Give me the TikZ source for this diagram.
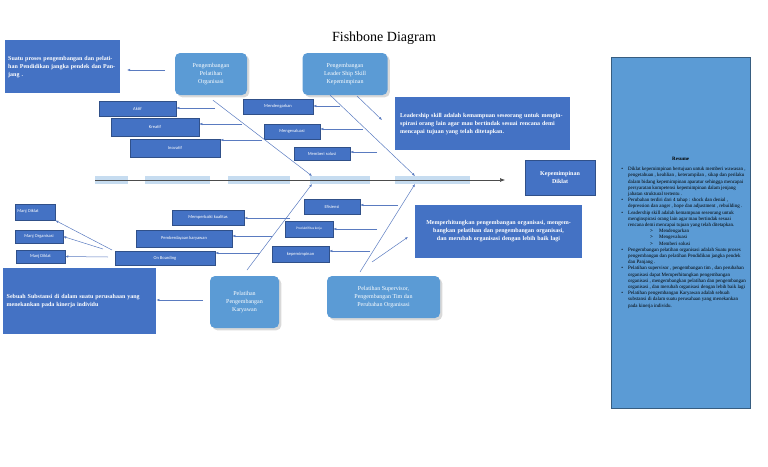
\documentclass[tikz,border=0pt]{standalone}
\usepackage{fontspec}
\setmainfont{Liberation Serif}
\setsansfont{Carlito}
\usetikzlibrary{arrows.meta,shadows}
\definecolor{dk}{HTML}{4472C4}
\definecolor{lt}{HTML}{5B9BD5}
\definecolor{ln}{HTML}{5A7BC0}
\tikzset{
 dbox/.style={draw=dk!70!black,fill=dk,text=white,font=\sffamily\fontsize{4.5}{5}\selectfont,inner sep=0pt,line width=0.5pt},
 tbox/.style={fill=dk,text=white,font=\bfseries\fontsize{6}{8}\selectfont,inner sep=3pt,align=left,anchor=north west},
 rbox/.style={fill=lt,rounded corners=5pt,text=white,font=\fontsize{6}{8}\selectfont,align=center,drop shadow={opacity=0.3}},
 arr/.style={draw=ln,line width=0.5pt,-{Latex[length=3pt,width=2.5pt]}},
 bone/.style={draw=ln,line width=0.5pt},
}
\begin{document}
\begin{tikzpicture}[x=1pt,y=-1pt]
\useasboundingbox (0,0) rectangle (768,466);
\node (title) at (384,38) {\fontsize{14}{16}\selectfont Fishbone Diagram};
% top-left text box
\node[tbox,minimum width=115pt,minimum height=53pt,text width=109pt] (tl) at (5,40) {Suatu proses pengembangan dan pelatihan Pendidikan jangka pendek dan Panjang .};
\node[rbox,minimum width=72pt,minimum height=42pt] (ppo) at (211,74) {Pengembangan\\Pelatihan\\Organisasi};
\node[rbox,minimum width=85pt,minimum height=42pt] (pls) at (345,74) {Pengembangan\\Leader Ship Skill\\Kepemimpinan};
\coordinate (a0) at (165,70); \coordinate (a1) at (127,70);
\draw[arr] (a0) -- (a1);
% left top items
\node[dbox,minimum width=77pt,minimum height=15pt] (aktif) at (137.5,108.5) {Aktif};
\node[dbox,minimum width=88pt,minimum height=18pt] (kreatif) at (155,127) {Kreatif};
\node[dbox,minimum width=90pt,minimum height=18pt] (inov) at (175,148) {Inovatif};
\node[dbox,minimum width=70pt,minimum height=15pt] (mend) at (278,106.5) {Mendengarkan};
\node[dbox,minimum width=56pt,minimum height=15pt] (meng) at (292,131.5) {Mengevaluasi};
\node[dbox,minimum width=56pt,minimum height=13pt] (memb) at (322,153.5) {Memberi solusi};
\coordinate (b1) at (215,108); \coordinate (b2) at (242,124); \coordinate (b3) at (262,110);
\draw[arr] (b1) -- (aktif.east|-b1);
\draw[arr] (242,124) -- (kreatif.east|-b2);
\draw[arr] (262,140) -- (inov.east|-0,140);
\draw[arr] (340,106) -- (mend.east|-0,106);
\draw[arr] (363,129) -- (meng.east|-0,129);
\draw[arr] (377,152) -- (memb.east|-0,152);
% spine
\foreach \a/\b in {95/128,145/210,228/290,310/370,395/470}{
 \fill[lt!35] (\a,176) rectangle (\b,184);}
\node[dbox,font=\bfseries\fontsize{6}{8}\selectfont,minimum width=70pt,minimum height=35pt,align=center] (kd) at (560,177.5) {Kepemimpinan\\Diklat};
\coordinate (s0) at (95,180);
\draw[draw=black!70,line width=0.6pt,-{Latex[length=5pt,width=4pt]}] (s0) -- (505,180);
\draw[bone,-{Latex[length=3pt,width=2.5pt]}] (ppo.south) ++(2,5) -- (312,176);
\draw[bone,-{Latex[length=3pt,width=2.5pt]}] (330,95) -- (415,176);
\draw[arr] (357,96) -- (382,120);
\node[tbox,minimum width=175pt,minimum height=53pt,text width=165pt] (lead) at (395,97) {Leadership skill adalah kemampuan seseorang untuk menginspirasi orang lain agar mau bertindak sesuai rencana demi mencapai tujuan yang telah ditetapkan.};
% bottom items
\node[dbox,minimum width=56pt,minimum height=15pt] (efi) at (332,206.5) {Efisiensi};
\node[dbox,minimum width=48pt,minimum height=16pt,font=\sffamily\fontsize{3.5}{4}\selectfont] (prod) at (309,229) {Produktifitas kerja};
\node[dbox,minimum width=57pt,minimum height=16pt] (kep) at (300.5,254) {kepemimpinan};
\node[dbox,minimum width=72pt,minimum height=15pt] (mk) at (208,217.5) {Memperbaiki kualitas};
\node[dbox,minimum width=96pt,minimum height=17pt] (pk) at (184,238.5) {Pemberdayaan karyawan};
\node[dbox,minimum width=100pt,minimum height=14pt] (ob) at (165,258) {On Boarding};
\draw[arr] (398,205) -- (efi.east|-0,205);
\draw[arr] (377,229) -- (prod.east|-0,229);
\draw[arr] (370,251) -- (kep.east|-0,251);
\draw[arr] (290,218) -- (mk.east|-0,218);
\draw[arr] (272,236) -- (pk.east|-0,236);
\draw[arr] (260,253) -- (ob.east|-0,253);
\node[rbox,minimum width=69pt,minimum height=52pt] (ppk) at (244.5,302) {Pelatihan\\Pengembangan\\Karyawan};
\node[rbox,minimum width=113pt,minimum height=42pt] (psup) at (383.5,297) {Pelatihan Supervisor,\\Pengembangan Tim dan\\Perubahan Organisasi};
\draw[bone,-{Latex[length=3pt,width=2.5pt]}] (247,270) -- (312,184);
\draw[bone,-{Latex[length=3pt,width=2.5pt]}] (360,272) -- (415,184);
\node[tbox,minimum width=167pt,minimum height=53pt,text width=160pt,align=center,anchor=center] (memp) at (498.5,231.5) {Memperhitungkan pengembangan organisasi, mengembangkan pelatihan dan pengembangan organisasi, dan merubah organisasi dengan lebih baik lagi};
\draw[arr] (372,262) -- (408,237);
% left small boxes
\node[dbox,minimum width=40pt,minimum height=16pt,anchor=north west,align=left,text width=36pt] (md1) at (15,204) {\raisebox{3pt}{Manj Diklat}};
\node[dbox,minimum width=48pt,minimum height=13pt] (mo) at (39,236.5) {Manj Organisasi};
\node[dbox,minimum width=49pt,minimum height=13pt] (md2) at (40.5,256.5) {Manj Diklat};
\draw[arr] (112,250) -- (md1.south east);
\draw[arr] (103,249) -- (mo.east);
\draw[arr] (108,257) -- (md2.east);
\node[tbox,minimum width=153pt,minimum height=66pt,text width=146pt] (seb) at (3,268) {Sebuah Substansi di dalam suatu perusahaan yang menekankan pada kinerja individu};
\draw[arr] (203,300) -- (seb.east|-0,300);
% resume
\node[draw=lt!60!black,fill=lt,anchor=north west,minimum width=139pt,minimum height=351pt,inner sep=3pt,text width=133pt,align=justify,font=\fontsize{5}{6.2}\selectfont] (res) at (611,57) {%
\centering\textbf{Resume}\par\vspace{2pt}\raggedright
\begin{list}{\textbullet}{\leftmargin=14pt\labelwidth=8pt\itemsep=0pt\parsep=0pt\topsep=0pt}
\item Diklat kepemimpinan bertujuan untuk memberi wawasan , pengetahuan , keahlian , keterampilan , sikap dan perilaku dalam bidang kepemimpinan aparatur sehingga mencapai persyaratan kompetensi kepemimpinan dalam jenjang jabatan struktural tertentu .
\item Perubahan terdiri dari 4 tahap : shock dan denial , depression dan anger , hope dan adjustment , rebuilding .
\item Leadership skill adalah kemampuan seseorang untuk menginspirasi orang lain agar mau bertindak sesuai rencana demi mencapai tujuan yang telah ditetapkan.\par
\hspace*{22pt}\textbf{>}\hspace{6pt}Mendengarkan\par
\hspace*{22pt}\textbf{>}\hspace{6pt}Mengevaluasi\par
\hspace*{22pt}\textbf{>}\hspace{6pt}Memberi solusi
\item Pengembangan pelatihan organisasi adalah Suatu proses pengembangan dan pelatihan Pendidikan jangka pendek dan Panjang .
\item Pelatihan supervisor , pengembangan tim , dan perubahan organisasi dapat Memperhitungkan pengembangan organisasi , mengembangkan pelatihan dan pengembangan organisasi , dan merubah organisasi dengan lebih baik lagi
\item Pelatihan pengembangan Karyawan adalah sebuah substansi di dalam suatu perusahaan yang menekankan pada kinerja individu.
\end{list}\vfill};
\end{tikzpicture}
\end{document}
